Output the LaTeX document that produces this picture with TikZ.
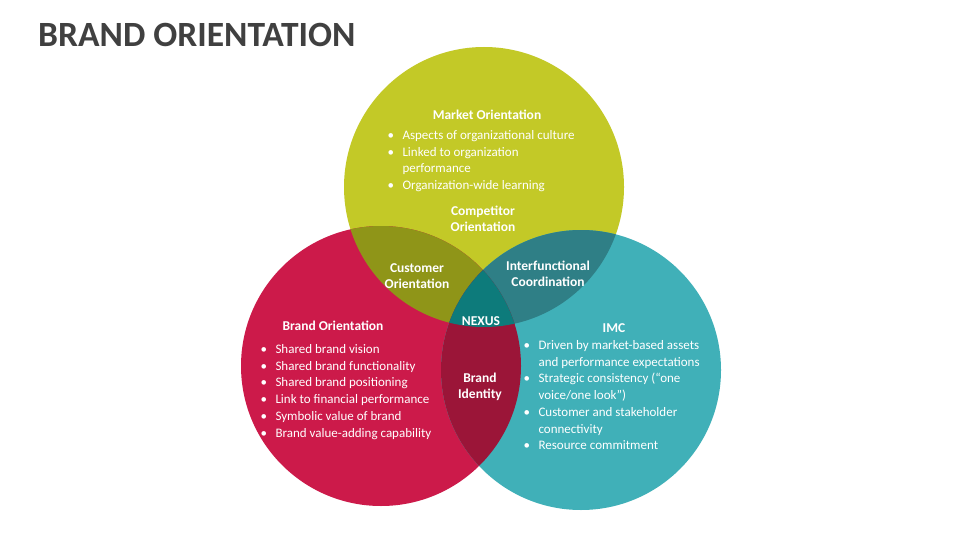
\documentclass[tikz,border=0pt]{standalone}
\usepackage{fontspec}
\setmainfont{Carlito}
\newcommand{\bl}{\makebox[15pt][l]{\textbullet}}
\newcommand{\ct}{\hspace*{15pt}}
\begin{document}
\begin{tikzpicture}[x=1pt,y=-1pt,
  txt/.style={text=white,font=\fontsize{13.5}{16.5}\selectfont\bfseries,align=center},
  lst/.style={text=white,font=\fontsize{13}{16.7}\selectfont,align=left,anchor=north west}]
\useasboundingbox (0,0) rectangle (960,540);
\fill[white] (0,0) rectangle (960,540);
\definecolor{cT}{HTML}{C3C927}\definecolor{cL}{HTML}{CC1A4A}\definecolor{cR}{HTML}{40B0B8}
\definecolor{cTL}{HTML}{8F9518}\definecolor{cTR}{HTML}{2F7F86}\definecolor{cLR}{HTML}{9B1538}\definecolor{cC}{HTML}{0D7B7B}
\coordinate (T) at (484,187);\coordinate (L) at (381,366);\coordinate (R) at (581,370);
\def\r{140}
\fill[cT] (T) circle (\r);\fill[cL] (L) circle (\r);\fill[cR] (R) circle (\r);
\begin{scope}\clip (T) circle (\r);\fill[cTL] (L) circle (\r);\fill[cTR] (R) circle (\r);\end{scope}
\begin{scope}\clip (L) circle (\r);\fill[cLR] (R) circle (\r);\end{scope}
\begin{scope}\clip (T) circle (\r);\clip (L) circle (\r);\fill[cC] (R) circle (\r);\end{scope}
\node[anchor=west,inner sep=0,text=black!75,font=\fontsize{35.5}{40}\selectfont\bfseries] (title) at (38,35) {BRAND ORIENTATION};
\node[txt] (mo) at (487,115) {Market Orientation};
\node[lst] (mol) at (384,127) {\bl Aspects of organizational culture\\\bl Linked to organization\\\ct performance\\\bl Organization-wide learning};
\node[txt] (co) at (483,219) {Competitor\\Orientation};
\node[txt] (cu) at (417,276) {Customer\\Orientation};
\node[txt] (ic) at (548,274) {Interfunctional\\Coordination};
\node[txt] (nx) at (481,321) {NEXUS};
\node[txt] (bi) at (480,387) {Brand\\Identity};
\node[txt] (bo) at (333,326) {Brand Orientation};
\node[lst] (bol) at (257,341) {\bl Shared brand vision\\\bl Shared brand functionality\\\bl Shared brand positioning\\\bl Link to financial performance\\\bl Symbolic value of brand\\\bl Brand value-adding capability};
\node[txt] (imc) at (614,328) {IMC};
\node[lst] (imcl) at (520,337) {\bl Driven by market-based assets\\\ct and performance expectations\\\bl Strategic consistency (“one\\\ct voice/one look”)\\\bl Customer and stakeholder\\\ct connectivity\\\bl Resource commitment};
\end{tikzpicture}
\end{document}
